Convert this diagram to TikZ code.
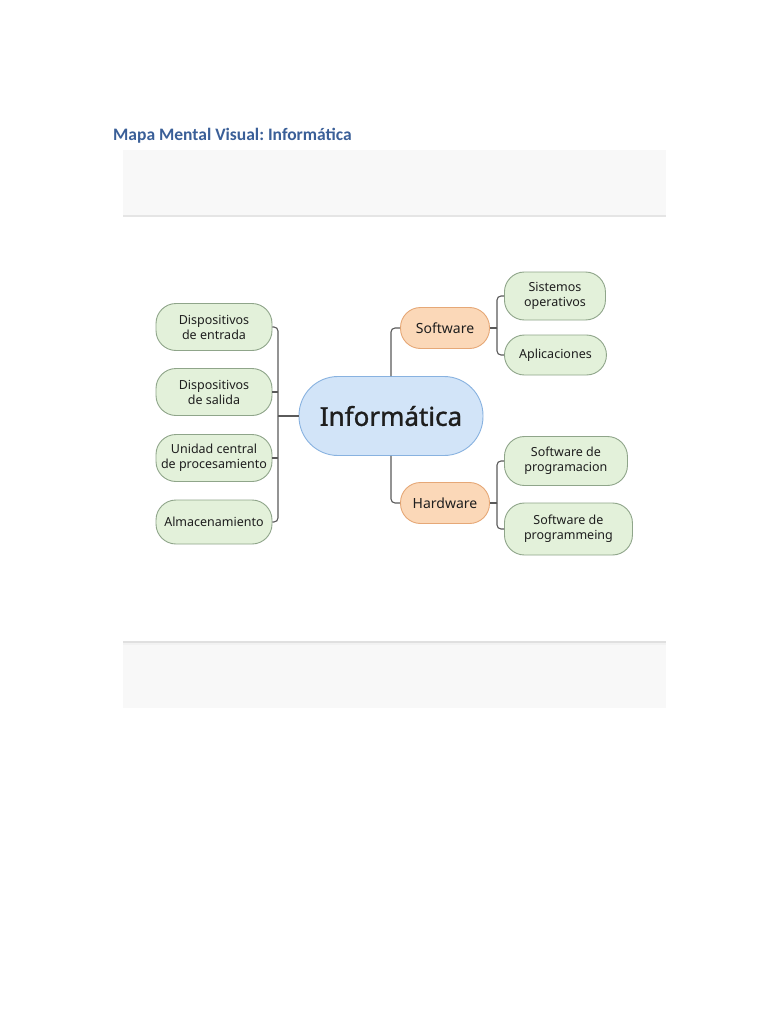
\documentclass[tikz,border=0pt]{standalone}
\usepackage{fontspec}
\setmainfont{Noto Sans}
\newfontfamily\titlefont{Carlito}
\newfontfamily\bigfont[FakeBold=1.2]{Noto Sans}
\definecolor{titleblue}{HTML}{3A5F98}
\definecolor{gfill}{HTML}{E3F1DA}
\definecolor{gdraw}{HTML}{8FA58A}
\definecolor{ofill}{HTML}{FBD8B8}
\definecolor{odraw}{HTML}{E6A877}
\definecolor{bfill}{HTML}{D2E4F8}
\definecolor{bdraw}{HTML}{88B2E0}
\definecolor{lgray}{HTML}{5A5A5A}
\definecolor{txt}{HTML}{1E1E1E}
\definecolor{panel}{HTML}{F8F8F8}
\frenchspacing
\tikzset{
  leaf/.style={draw=gdraw, fill=gfill, line width=0.9pt, rounded corners=20pt, align=center,
    font=\fontsize{12.5}{15}\selectfont, text=txt, inner sep=0pt},
  mid/.style={draw=odraw, fill=ofill, line width=0.9pt, rounded corners=20pt, align=center,
    minimum width=89pt, minimum height=41pt, font=\fontsize{14}{16}\selectfont, text=txt, inner sep=0pt},
  conn/.style={draw=lgray, line width=1.1pt, rounded corners=4pt}
}
\begin{document}
\begin{tikzpicture}[x=1pt,y=-1pt]
\useasboundingbox (0,0) rectangle (768,1024);
\fill[white] (0,0) rectangle (768,1024);
% title
\node[anchor=base west, inner sep=0pt, font=\titlefont\bfseries\fontsize{17.5}{20}\selectfont, text=titleblue] (title) at (113,141) {Mapa Mental Visual: Informática};
% panels
\fill[panel] (123,150) rectangle (666,216);
\fill[black!10] (123,215) rectangle (666,217);
\fill[panel] (123,641) rectangle (666,708);
\fill[black!12] (123,640.5) rectangle (666,642.5);
\fill[black!5] (123,642.5) rectangle (666,645);
% central
\node[draw=bdraw, fill=bfill, line width=0.9pt, rounded corners=39pt, minimum width=184pt, minimum height=79pt,
  font=\bigfont\fontsize{26}{30}\selectfont, text=txt, inner sep=0pt] (c) at (391,416) {Informática};
% left leaves
\node[leaf, minimum width=116pt, minimum height=47pt] (e1) at (214,327) {Dispositivos\\de entrada};
\node[leaf, minimum width=116pt, minimum height=47pt] (e2) at (214,392) {Dispositivos\\de salida};
\node[leaf, minimum width=116pt, minimum height=47pt] (e3) at (214,458) {Unidad central\\de procesamiento};
\node[leaf, minimum width=116pt, minimum height=44pt] (e4) at (214,522) {Almacenamiento};
% mid
\node[mid] (sw) at (445,328) {Software};
\node[mid] (hw) at (445,503) {Hardware};
% right leaves
\node[leaf, anchor=west, minimum width=101pt, minimum height=48pt] (so) at (504,296) {Sistemos\\operativos};
\node[leaf, anchor=west, minimum width=102pt, minimum height=40pt] (ap) at (504,355) {Aplicaciones};
\node[leaf, anchor=west, minimum width=123pt, minimum height=49pt] (sp) at (504,461) {Software de\\programacion};
\node[leaf, anchor=west, minimum width=128pt, minimum height=52pt] (sg) at (504,529) {Software de\\programmeing};
% connectors
\coordinate (lb) at (278,416);
\coordinate (rs) at (497,328);
\coordinate (rh) at (497,503);
\draw[conn] (e1.east) -| (lb);
\draw[conn] (e4.east) -| (lb);
\draw[conn] (e2.east) -- (e2.east -| lb);
\draw[conn] (e3.east) -- (e3.east -| lb);
\draw[conn] (lb) -- (c.west);
\draw[conn] (c.north) |- (sw.west);
\draw[conn] (c.south) |- (hw.west);
\draw[conn] (sw.east) -- (rs);
\draw[conn] (rs) |- (so.west);
\draw[conn] (rs) |- (ap.west);
\draw[conn] (hw.east) -- (rh);
\draw[conn] (rh) |- (sp.west);
\draw[conn] (rh) |- (sg.west);
\end{tikzpicture}
\end{document}
